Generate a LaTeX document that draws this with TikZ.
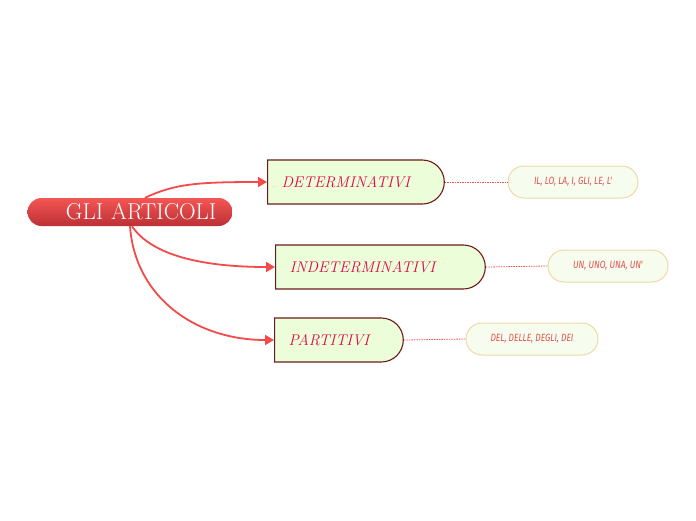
\documentclass[tikz,border=0pt]{standalone}
\usepackage{fontspec}
\newfontfamily\leaffont{Fira Sans}[FakeStretch=0.8]
\usepackage{tikz}
\usetikzlibrary{shapes.misc}
\usetikzlibrary{arrows.meta}
\usetikzlibrary{positioning}
\definecolor{rootlight}{HTML}{F45654}
\definecolor{rootdark}{HTML}{BC3035}
\definecolor{branchfill}{HTML}{EBFDD9}
\definecolor{branchline}{HTML}{6E1A1A}
\definecolor{branchtext}{HTML}{E0084A}
\definecolor{linkred}{HTML}{F44A4A}
\definecolor{leaffill}{HTML}{F7FDEE}
\definecolor{leafline}{HTML}{EED9A6}
\definecolor{leaftext}{HTML}{E24E4E}
\definecolor{dotred}{HTML}{F05050}

\begin{document}
\begin{tikzpicture}[x=1pt,y=-1pt,
  root/.style={rectangle, rounded corners=14pt, top color=rootlight, bottom color=rootdark,
    minimum width=205pt, minimum height=28pt, inner ysep=0pt, inner xsep=16pt,
    text width=173pt, align=right, text=white, font=\fontsize{23}{23}\selectfont},
  branch/.style={rounded rectangle, rounded rectangle left arc=none, draw=branchline,
    fill=branchfill, line width=1.1pt, minimum height=44pt, inner xsep=14pt,
    align=left, anchor=west, text=branchtext, font=\itshape\fontsize{15.5}{15.5}\selectfont},
  leaf/.style={rectangle, rounded corners=16pt, draw=leafline, fill=leaffill,
    line width=1pt, minimum height=32pt, text=leaftext,
    font=\leaffont\itshape\fontsize{10.5}{10.5}\selectfont},
  link/.style={draw=linkred, line width=1.8pt, -{Triangle[length=9pt,width=10pt]}},
  dots/.style={draw=dotred, dash pattern=on 1.5pt off 1pt, line width=0.8pt}]
  \useasboundingbox (0,0) rectangle (696,520);
  % centre
  \node[root] (root) at (130,212) {GLI ARTICOLI};
  % rami
  \node[branch, text width=148pt] (det) at (267,182) {DETERMINATIVI};
  \node[branch, text width=181pt] (indet) at (275,267) {INDETERMINATIVI};
  \node[branch, text width=100pt] (part) at (274,340) {PARTITIVI};
  % foglie
  \node[leaf, minimum width=130pt] (detleaf) at (573,182) {IL, LO, LA, I, GLI, LE, L'};
  \node[leaf, minimum width=120pt] (indetleaf) at (608,266) {UN, UNO, UNA, UN'};
  \node[leaf, minimum width=132pt] (partleaf) at (532,339) {DEL, DELLE, DEGLI, DEI};
  % collegamenti
  \draw[link] ([xshift=15pt]root.north) .. controls +(30,-14) and +(-70,0) .. (det.west);
  \draw[link] ([xshift=2pt]root.south) .. controls +(20,30) and +(-70,0) .. (indet.west);
  \draw[link] (root.south) .. controls +(5,70) and +(-80,0) .. (part.west);
  \draw[dots] (det.east) -- (detleaf.west);
  \draw[dots] (indet.east) -- (indetleaf.west);
  \draw[dots] (part.east) -- (partleaf.west);
\end{tikzpicture}
\end{document}
